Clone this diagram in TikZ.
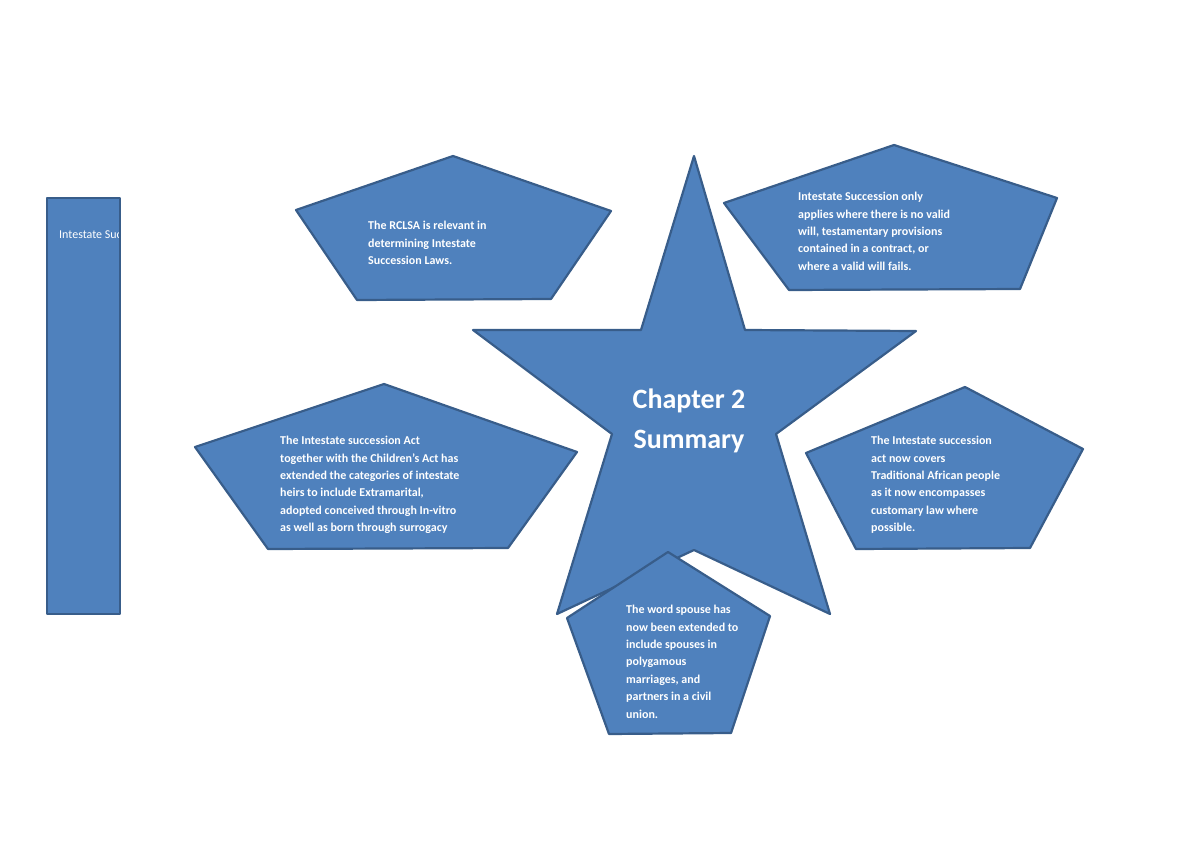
\documentclass[tikz,border=0pt]{standalone}
\usepackage{fontspec}
\setmainfont{Carlito}
\usetikzlibrary{positioning}
\definecolor{boxfill}{HTML}{4F81BD}
\definecolor{boxline}{HTML}{385D8A}
\tikzstyle{panel}=[fill=boxfill, draw=boxline, line width=2.2pt, line join=round]
\tikzstyle{panel text}=[text=white, font=\bfseries\fontsize{12}{17.4}\selectfont, align=left, anchor=north west, inner sep=0pt]

\begin{document}
\begin{tikzpicture}[x=1pt, y=-1pt]
  \useasboundingbox (0,0) rectangle (1200,848);
  \draw[panel] (47,198) rectangle (120,614);
  \begin{scope}
    \clip (47,198) rectangle (118,614);
    \node[panel text, font=\fontsize{12}{14}\selectfont] (side) at (59,230) {Intestate Succession};
  \end{scope}
  \draw[panel] (453,156) -- (611,211) -- (551,299) -- (357,300) -- (296,210) -- cycle;
  \draw[panel] (894,145) -- (1057,198) -- (1020,289) -- (789,290) -- (724,203) -- cycle;
  \draw[panel] (384,384) -- (577,452) -- (508,548) -- (268,549) -- (195,447) -- cycle;
  \draw[panel] (965,387) -- (1083,449) -- (1030,548) -- (856,549) -- (806,453) -- cycle;
  \draw[panel] (694,156) -- (745,330) -- (916,331) -- (776,434) -- (830,614)
    -- (694,550) -- (557,614) -- (612,434) -- (473,330) -- (641,330) -- cycle;
  \draw[panel] (668,552) -- (770,616) -- (731,733) -- (609,734) -- (567,618) -- cycle;
  \node[panel text] (rclsa) at (368,221) {The RCLSA is relevant in\\determining Intestate\\Succession Laws.};
  \node[panel text] (valid) at (798,192) {Intestate Succession only\\applies where there is no valid\\will, testamentary provisions\\contained in a contract, or\\where a valid will fails.};
  \node[panel text] (heirs) at (280,436) {The Intestate succession Act\\together with the Children’s Act has\\extended the categories of intestate\\heirs to include Extramarital,\\adopted conceived through In-vitro\\as well as born through surrogacy};
  \node[panel text] (custom) at (871,436) {The Intestate succession\\act now covers\\Traditional African people\\as it now encompasses\\customary law where\\possible.};
  \node[panel text] (spouse) at (626,605) {The word spouse has\\now been extended to\\include spouses in\\polygamous\\marriages, and\\partners in a civil\\union.};
  \node[panel text, font=\bfseries\fontsize{28}{40}\selectfont, align=center, anchor=center] (title) at (689,421) {Chapter 2\\Summary};
\end{tikzpicture}
\end{document}
